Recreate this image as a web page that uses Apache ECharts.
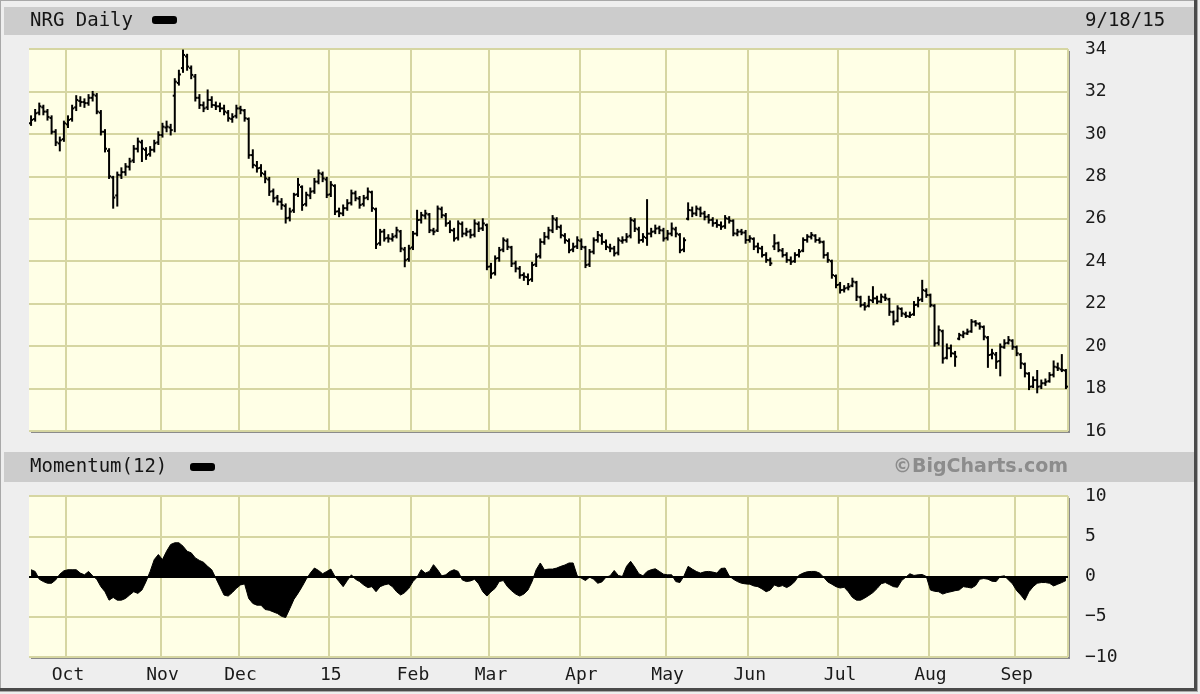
<!DOCTYPE html>
<html>
<head>
<meta charset="utf-8">
<script src="https://cdn.jsdelivr.net/npm/echarts@6/dist/echarts.min.js"></script>
<style>
html,body{margin:0;padding:0;background:#eeeeee;}
#chart{width:1200px;height:694px;}
</style>
</head>
<body>
<div id="chart"></div>
<script>
// ---- data ----
const firstDay = '2014-09-18';
const lastDay = '2015-09-18';
const holidays = ['2014-11-27','2014-12-25','2015-01-01','2015-01-19','2015-02-16','2015-04-03','2015-05-25','2015-07-03','2015-09-07'];
const monthLabels = ['15','Feb','Mar','Apr','May','Jun','Jul','Aug','Sep','Oct','Nov','Dec'];
const priceTicks = [16,18,20,22,24,26,28,30,32,34];
const momentumTicks = [-10,-5,0,5,10];

const opens = [30.50,30.70,31.00,31.25,31.05,30.75,30.10,29.55,29.75,30.45,
30.70,31.25,31.55,31.50,31.45,31.70,31.80,31.00,30.10,29.20,
27.95,27.10,28.05,28.20,28.45,28.75,29.30,29.60,29.25,29.05,
29.25,29.60,29.95,30.30,30.30,31.80,32.40,33.10,33.65,33.10,
32.70,31.70,31.35,31.25,31.60,31.35,31.30,31.20,31.00,30.70,
30.85,31.20,31.10,30.70,29.00,28.50,28.40,28.10,27.85,27.30,
27.00,26.80,26.60,26.05,26.40,27.15,27.50,26.70,27.10,27.30,
27.75,28.10,27.85,27.15,27.55,26.35,26.25,26.50,26.75,27.20,
26.95,26.70,27.00,27.25,26.45,24.85,25.40,25.10,25.05,25.20,
25.40,24.55,24.10,24.65,25.30,25.95,26.15,26.20,25.45,25.45,
26.45,26.15,25.80,25.45,25.10,25.75,25.30,25.40,25.25,25.75,
25.55,25.70,23.75,23.45,24.15,24.55,24.95,24.65,23.90,23.65,
23.35,23.25,23.15,23.85,24.25,24.90,25.15,25.45,25.95,25.60,
25.20,24.95,24.55,24.70,24.95,24.65,23.85,24.45,25.00,25.20,
24.90,24.65,24.60,24.40,24.95,25.00,25.20,25.90,25.50,25.00,
25.10,25.30,25.40,25.55,25.45,25.10,25.30,25.50,25.25,24.55,
26.00,26.40,26.25,26.45,26.25,26.10,25.95,25.80,25.70,25.65,
26.00,25.90,25.30,25.40,25.35,25.00,25.05,24.70,24.60,24.30,
24.05,24.70,24.85,24.50,24.30,24.05,24.00,24.30,24.50,25.00,
25.15,25.20,25.00,24.90,24.30,24.00,23.30,22.90,22.65,22.75,
22.85,23.00,22.30,21.95,21.90,22.15,22.25,22.10,22.30,22.20,
21.60,21.20,21.75,21.50,21.40,21.50,21.95,22.20,22.60,22.40,
21.90,20.15,20.70,19.45,19.90,19.65,20.35,20.50,20.60,20.70,
21.15,21.05,20.90,20.40,19.60,19.60,19.30,19.95,20.15,20.25,
19.95,19.60,19.15,18.70,18.10,18.40,18.10,18.25,18.35,18.65,
19.00,18.90,18.85];

const highs = [30.85,31.15,31.45,31.35,31.15,30.85,30.20,29.85,30.60,30.85,
31.35,31.80,31.75,31.65,31.85,32.00,31.90,31.10,30.20,29.30,
28.00,28.20,28.40,28.60,28.85,29.45,29.80,29.70,29.35,29.40,
29.70,30.10,30.50,30.60,30.45,32.60,33.00,33.95,33.75,33.20,
32.80,31.85,31.50,32.07,31.75,31.50,31.45,31.35,31.10,30.95,
31.35,31.30,31.15,30.75,29.25,28.70,28.55,28.25,27.95,27.40,
27.10,26.95,26.70,26.50,27.20,27.90,27.55,27.25,27.45,27.90,
28.30,28.20,27.95,27.75,27.60,26.50,26.65,26.90,27.35,27.30,
27.05,27.10,27.45,27.30,26.50,25.50,25.50,25.25,25.30,25.60,
25.45,24.65,24.75,25.40,26.40,26.30,26.40,26.25,25.55,26.60,
26.55,26.25,25.90,25.55,25.90,25.85,25.55,25.50,25.95,25.85,
26.00,25.75,23.90,24.25,24.65,25.10,25.05,24.70,24.00,23.75,
23.45,23.40,23.95,24.35,25.05,25.35,25.60,26.15,26.05,25.70,
25.30,25.05,24.85,25.15,25.05,24.70,24.55,25.10,25.40,25.30,
25.00,24.80,24.70,25.10,25.15,25.30,26.05,26.00,25.60,25.30,
26.90,25.55,25.70,25.65,25.55,25.45,25.80,25.60,25.30,25.10,
26.75,26.55,26.60,26.55,26.35,26.20,26.05,25.95,25.85,26.15,
26.10,25.95,25.50,25.50,25.45,25.20,25.10,24.85,24.70,24.40,
24.15,25.25,24.90,24.60,24.40,24.20,24.40,24.55,25.10,25.25,
25.35,25.25,25.10,24.95,24.40,24.05,23.35,23.00,22.85,22.95,
23.20,23.05,22.35,22.05,22.35,22.80,22.35,22.45,22.45,22.25,
21.65,21.90,21.80,21.60,21.60,22.10,22.30,23.10,22.70,22.45,
21.95,20.95,20.75,20.10,20.05,19.75,20.60,20.70,20.80,21.25,
21.20,21.10,20.95,20.45,19.85,19.70,20.10,20.30,20.45,20.30,
20.00,19.65,19.20,18.75,18.55,18.85,18.40,18.45,18.75,19.30,
19.20,19.60,18.90];

const lows = [30.40,30.60,30.90,30.90,30.65,30.00,29.45,29.20,29.65,30.30,
30.60,31.10,31.30,31.25,31.35,31.55,30.95,29.95,29.15,27.90,
26.50,26.60,27.90,28.05,28.30,28.65,29.15,28.70,28.80,28.95,
29.15,29.50,29.85,30.10,29.95,30.10,32.30,32.90,33.00,32.60,
31.55,31.20,31.05,31.15,31.25,31.15,31.05,30.90,30.60,30.55,
30.75,30.95,30.60,28.85,28.40,28.20,28.00,27.70,27.10,26.80,
26.65,26.45,25.80,25.90,26.30,27.05,26.40,26.60,26.95,27.20,
27.65,27.75,27.00,27.05,26.20,26.10,26.15,26.40,26.65,26.85,
26.50,26.60,26.90,26.35,24.60,24.75,24.95,24.90,24.95,25.10,
24.45,23.74,24.00,24.55,25.20,25.80,26.00,25.35,25.25,25.40,
26.05,25.65,25.35,24.95,25.00,25.15,25.20,25.10,25.15,25.40,
25.45,23.60,23.20,23.35,24.00,24.45,24.55,23.75,23.50,23.20,
23.10,22.90,23.05,23.75,24.15,24.80,25.05,25.35,25.50,25.10,
24.85,24.40,24.45,24.60,24.55,23.70,23.75,24.35,24.90,24.80,
24.55,24.45,24.25,24.30,24.85,24.90,25.10,25.40,24.85,24.90,
24.75,25.15,25.30,25.30,24.95,25.00,25.20,25.15,24.40,24.45,
25.95,26.10,26.15,26.10,25.95,25.80,25.65,25.60,25.50,25.55,
25.80,25.20,25.20,25.25,24.85,24.90,24.55,24.40,24.20,23.95,
23.80,24.55,24.45,24.20,23.95,23.85,23.95,24.20,24.45,24.90,
25.05,24.90,24.85,24.15,23.95,23.20,22.75,22.50,22.55,22.65,
22.80,22.15,21.85,21.70,21.85,22.05,22.00,22.05,22.15,21.45,
21.00,21.15,21.40,21.35,21.35,21.45,21.85,22.10,22.30,21.85,
20.00,20.05,19.20,19.40,19.50,19.05,20.30,20.40,20.55,20.65,
20.95,20.80,20.30,19.00,19.40,18.95,18.60,19.90,20.10,19.85,
19.55,18.95,18.55,17.95,18.05,17.80,18.00,18.15,18.30,18.55,
18.85,18.80,18.00];

const closes = [30.66,30.97,31.30,31.05,30.80,30.10,29.60,29.70,30.50,30.66,
31.20,31.60,31.50,31.45,31.70,31.85,31.05,30.10,29.30,28.00,
27.00,28.07,28.20,28.46,28.70,29.30,29.64,29.30,29.00,29.25,
29.56,29.95,30.34,30.34,30.18,32.46,32.80,33.72,33.17,32.78,
31.70,31.36,31.20,31.60,31.36,31.30,31.20,31.05,30.74,30.80,
31.20,31.13,30.74,29.00,28.54,28.38,28.15,27.90,27.28,26.97,
26.81,26.65,26.03,26.34,27.13,27.60,26.65,27.13,27.28,27.75,
28.15,27.90,27.13,27.60,26.34,26.26,26.50,26.73,27.20,26.97,
26.65,26.97,27.28,26.50,24.80,25.39,25.07,25.07,25.15,25.46,
24.60,24.05,24.60,25.30,25.94,26.17,26.25,25.46,25.39,26.48,
26.17,25.78,25.46,25.07,25.78,25.30,25.39,25.23,25.78,25.54,
25.78,23.74,23.42,24.13,24.52,24.99,24.68,23.89,23.66,23.34,
23.27,23.11,23.82,24.21,24.91,25.15,25.46,26.01,25.62,25.23,
24.99,24.52,24.68,24.99,24.68,23.82,24.44,24.99,25.23,24.91,
24.68,24.60,24.37,24.99,24.99,25.15,25.94,25.54,24.99,25.15,
25.30,25.39,25.54,25.46,25.07,25.30,25.54,25.30,24.52,24.99,
26.41,26.25,26.48,26.25,26.09,25.94,25.79,25.71,25.63,26.02,
25.91,25.31,25.39,25.35,25.00,25.08,24.69,24.61,24.29,24.06,
23.90,24.84,24.53,24.29,24.06,23.98,24.29,24.45,25.00,25.16,
25.24,25.00,24.92,24.29,24.06,23.35,22.88,22.64,22.72,22.80,
23.04,22.33,21.94,21.86,22.17,22.25,22.10,22.33,22.25,21.62,
21.15,21.78,21.54,21.42,21.47,21.94,22.17,22.64,22.41,21.94,
20.13,20.76,19.42,19.90,19.66,19.50,20.52,20.60,20.68,21.15,
21.07,20.92,20.45,19.58,19.66,19.27,19.97,20.13,20.29,19.97,
19.66,19.19,18.72,18.09,18.40,18.09,18.25,18.32,18.64,19.03,
18.95,18.87,18.09];

const momentum = [0.84,0.63,-0.34,-0.63,-0.84,-0.84,-0.42,0.29,0.71,0.84,
0.84,0.84,0.42,0.21,0.63,0.08,-0.34,-1.26,-1.89,-2.94,
-2.6,-2.94,-2.94,-2.73,-2.3,-1.89,-2.1,-1.68,-0.63,0.63,
2.1,2.73,2.1,3.14,3.98,4.19,4.19,3.77,3.14,2.94,
2.31,2.0,1.76,1.26,0.84,-0.21,-1.26,-2.31,-2.43,-2.0,
-1.47,-1.05,-0.92,-2.73,-3.35,-3.56,-3.56,-4.1,-4.19,-4.4,
-4.6,-4.95,-5.1,-4.0,-2.85,-2.1,-1.26,-0.34,0.42,1.05,
0.75,0.34,0.63,0.92,0,-0.63,-1.26,-0.5,0.21,-0.34,
-0.63,-1.05,-1.38,-1.26,-1.89,-1.26,-1.05,-0.92,-1.26,-1.89,
-2.3,-2.0,-1.47,-0.63,-0.08,0.84,0.42,0.63,1.47,0.84,
0.08,0.21,0.63,0.84,0.63,-0.42,-0.63,-0.55,-0.34,-0.92,
-1.89,-2.43,-1.89,-1.47,-0.63,-0.5,-1.26,-1.76,-2.18,-2.43,
-2.18,-1.68,-0.63,0.84,1.68,0.84,0.92,0.92,1.05,1.26,
1.43,1.68,1.68,0.08,-0.21,-0.5,-0.08,-0.34,-0.84,-0.67,
-0.08,0.08,0.75,0.13,0,1.26,1.89,1.17,0.34,0.08,
0.63,0.84,0.96,0.63,0.29,0.21,0.21,-0.63,-0.75,0.08,
1.26,0.92,0.63,0.42,0.59,0.63,0.55,0.42,1.0,1.05,
0.08,-0.34,-0.63,-0.84,-0.92,-0.96,-1.17,-1.26,-1.55,-1.89,
-1.68,-1.05,-1.26,-1.13,-1.38,-1.09,-0.63,0.17,0.42,0.59,
0.63,0.63,0.42,-0.08,-0.67,-0.96,-1.26,-1.43,-1.34,-1.89,
-2.6,-2.94,-2.94,-2.68,-2.35,-2.0,-1.5,-0.9,-0.75,-1.0,
-1.26,-1.34,-0.5,-0.08,0.34,0.13,0.21,0.25,0,-1.68,
-1.84,-1.89,-2.18,-2.0,-1.89,-1.76,-1.68,-1.26,-1.34,-1.43,
-1.13,-0.34,-0.25,-0.34,-0.59,-0.63,0,0.08,-0.42,-0.92,
-1.76,-2.3,-2.94,-1.89,-1.26,-0.84,-0.75,-0.75,-0.84,-1.17,
-0.96,-0.75,-0.5];

// ---- trading-day categories ----
function tradingDays(from, to, skip) {
  const out = [];
  const d = new Date(from + 'T00:00:00Z');
  const end = new Date(to + 'T00:00:00Z');
  while (d <= end) {
    const s = d.toISOString().slice(0, 10);
    const wd = d.getUTCDay();
    if (wd !== 0 && wd !== 6 && skip.indexOf(s) < 0) out.push(s);
    d.setUTCDate(d.getUTCDate() + 1);
  }
  return out;
}
const dates = tradingDays(firstDay, lastDay, holidays);
const monthStart = {};
dates.forEach((s, i) => {
  if (i > 0 && s.slice(5, 7) !== dates[i - 1].slice(5, 7)) monthStart[i] = true;
});
const isMonthStart = (i) => !!monthStart[i];

const ohlc = dates.map((d, i) => [i, opens[i], highs[i], lows[i], closes[i]]);

const FONT = 'DejaVu Sans Mono';
const GRID_COLOR = '#d6d6a2';
const PLOT_BG = '#ffffe6';

function renderOHLC(params, api) {
  const i = api.value(0);
  const o = api.coord([i, api.value(1)]);
  const h = api.coord([i, api.value(2)]);
  const l = api.coord([i, api.value(3)]);
  const c = api.coord([i, api.value(4)]);
  const w = api.size([1, 0])[0] * 0.5;
  const x = h[0];
  const st = { stroke: '#000', lineWidth: 2 };
  return {
    type: 'group',
    children: [
      { type: 'line', shape: { x1: x, y1: h[1] - 0.5, x2: x, y2: l[1] + 0.5 }, style: st },
      { type: 'line', shape: { x1: x - w, y1: o[1], x2: x, y2: o[1] }, style: st },
      { type: 'line', shape: { x1: x, y1: c[1], x2: x + w, y2: c[1] }, style: st }
    ]
  };
}

const chart = echarts.init(document.getElementById('chart'), null, { renderer: 'canvas' });
const labelStyle = { fontFamily: FONT, fontSize: 18, color: '#1a1a1a' };

chart.setOption({
  animation: false,
  backgroundColor: '#eeeeee',
  graphic: [
    { type: 'rect', shape: { x: 0, y: 0, width: 1197, height: 691 }, style: { fill: 'none', stroke: '#a8a8a8', lineWidth: 2 }, z: 0 },
    { type: 'rect', shape: { x: 1194, y: 0, width: 3, height: 691 }, style: { fill: '#4a4a4a' }, z: 0 },
    { type: 'rect', shape: { x: 0, y: 688, width: 1197, height: 3 }, style: { fill: '#4a4a4a' }, z: 0 },
    { type: 'rect', shape: { x: 4, y: 7, width: 1190, height: 28 }, style: { fill: '#cccccc' }, z: 0 },
    { type: 'text', x: 30, y: 21, style: { text: 'NRG Daily', font: '19px "DejaVu Sans Mono"', fill: '#151515', textVerticalAlign: 'middle', verticalAlign: 'middle' }, z: 1 },
    { type: 'rect', shape: { x: 152, y: 16, width: 25, height: 8, r: 3 }, style: { fill: '#000' }, z: 1 },
    { type: 'text', x: 1085, y: 21, style: { text: '9/18/15', font: '19px "DejaVu Sans Mono"', fill: '#151515', textVerticalAlign: 'middle', verticalAlign: 'middle' }, z: 1 },
    { type: 'rect', shape: { x: 4, y: 452, width: 1190, height: 30 }, style: { fill: '#cccccc' }, z: 0 },
    { type: 'text', x: 30, y: 467, style: { text: 'Momentum(12)', font: '19px "DejaVu Sans Mono"', fill: '#151515', textVerticalAlign: 'middle', verticalAlign: 'middle' }, z: 1 },
    { type: 'rect', shape: { x: 190, y: 463, width: 25, height: 8, r: 3 }, style: { fill: '#000' }, z: 1 },
    { type: 'text', x: 1068, y: 467, style: { text: '\u00A9BigCharts.com', font: 'bold 19px "DejaVu Sans"', fill: '#8c8c8c', textAlign: 'right', align: 'right', textVerticalAlign: 'middle', verticalAlign: 'middle' }, z: 1 }
  ],
  grid: [
    { left: 29, top: 49, width: 1039, height: 382, show: true, backgroundColor: PLOT_BG, borderWidth: 0,
      shadowColor: '#8a8a8a', shadowOffsetX: 2, shadowOffsetY: 2, shadowBlur: 0 },
    { left: 29, top: 496, width: 1039, height: 161, show: true, backgroundColor: PLOT_BG, borderWidth: 0,
      shadowColor: '#8a8a8a', shadowOffsetX: 2, shadowOffsetY: 2, shadowBlur: 0 }
  ],
  xAxis: [
    { type: 'category', gridIndex: 0, data: dates, boundaryGap: true,
      axisLine: { show: false }, axisTick: { show: false }, axisLabel: { show: false },
      splitLine: { show: true, interval: (i) => isMonthStart(i), lineStyle: { color: GRID_COLOR, width: 2 } } },
    { type: 'category', gridIndex: 1, data: dates, boundaryGap: true,
      axisLine: { show: false }, axisTick: { show: false },
      axisLabel: Object.assign({ show: true, interval: (i) => isMonthStart(i), margin: 9,
        formatter: (v) => monthLabels[parseInt(v.slice(5, 7), 10) - 1] }, labelStyle),
      splitLine: { show: true, interval: (i) => isMonthStart(i), lineStyle: { color: GRID_COLOR, width: 2 } } }
  ],
  yAxis: [
    { type: 'value', gridIndex: 0, position: 'right', min: priceTicks[0], max: priceTicks[priceTicks.length - 1], interval: 2,
      axisLine: { show: false }, axisTick: { show: false },
      axisLabel: Object.assign({ margin: 17 }, labelStyle),
      splitLine: { show: true, lineStyle: { color: GRID_COLOR, width: 2 } } },
    { type: 'value', gridIndex: 1, position: 'right', min: momentumTicks[0], max: momentumTicks[momentumTicks.length - 1], interval: 5,
      axisLine: { show: false }, axisTick: { show: false },
      axisLabel: Object.assign({ margin: 17, formatter: (v) => (v < 0 ? '\u2212' + (-v) : String(v)) }, labelStyle),
      splitLine: { show: true, lineStyle: { color: GRID_COLOR, width: 2 } } }
  ],
  series: [
    { type: 'custom', xAxisIndex: 0, yAxisIndex: 0, renderItem: renderOHLC, data: ohlc,
      encode: { x: 0, y: [1, 2, 3, 4] }, clip: true, z: 3 },
    { type: 'line', xAxisIndex: 1, yAxisIndex: 1, data: momentum, showSymbol: false, symbol: 'none',
      lineStyle: { color: '#000', width: 1 }, itemStyle: { color: '#000' },
      areaStyle: { color: '#000', opacity: 1, origin: 'auto' }, z: 3,
      markLine: { silent: true, symbol: 'none', label: { show: false },
        lineStyle: { color: '#000', width: 2, type: 'solid' }, data: [{ yAxis: 0 }] } }
  ]
});
</script>
</body>
</html>
